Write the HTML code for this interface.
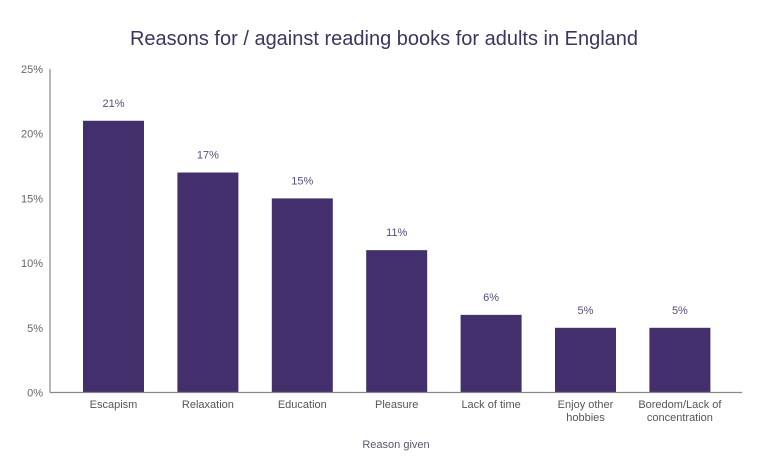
<!DOCTYPE html>
<html><head><meta charset="utf-8"><style>
html,body{margin:0;padding:0;background:#fff;}
svg{display:block;font-family:"Liberation Sans",sans-serif;}
</style></head><body>
<svg id="chart" width="768" height="476">
<text x="384" y="45" text-anchor="middle" font-size="20" fill="#3b3560">Reasons for / against reading books for adults in England</text>
<text x="396" y="448" text-anchor="middle" font-size="11" fill="#5a5470">Reason given</text>
<g id="yticks"></g><g id="bars"></g>
<line x1="50" y1="69" x2="50" y2="392.5" stroke="#888" stroke-width="1.2"/>
<line x1="50" y1="392.5" x2="742" y2="392.5" stroke="#888" stroke-width="1.2"/>
</svg>
<script>
const categories=[["Escapism"],["Relaxation"],["Education"],["Pleasure"],["Lack of time"],["Enjoy other","hobbies"],["Boredom/Lack of","concentration"]];
const values=[21,17,15,11,6,5,5];
const yTicks=[0,5,10,15,20,25];
const tickLabels=["0%","5%","10%","15%","20%","25%"];
const NS="http://www.w3.org/2000/svg";
const y=v=>392.5-v*(323.5/25);
const x=i=>83+i*94.4;
const bw=61;
const yg=document.getElementById("yticks"),bg=document.getElementById("bars");
function mk(t,a,p){const e=document.createElementNS(NS,t);for(const k in a)e.setAttribute(k,a[k]);p.appendChild(e);return e;}
yTicks.forEach((v,i)=>{const t=mk("text",{x:43,y:y(v)+4,"text-anchor":"end","font-size":11,fill:"#666"},yg);t.textContent=tickLabels[i];

});
values.forEach((v,i)=>{
const r=mk("rect",{x:x(i),y:y(v),width:bw,height:392.5-y(v),fill:"#432f6b"},bg);


const l=mk("text",{x:x(i)+bw/2,y:y(v)-14,"text-anchor":"middle","font-size":11,fill:"#5a4a80"},bg);l.textContent=v+"%";


categories[i].forEach((s,j)=>{const c=mk("text",{x:x(i)+bw/2,y:408+j*13,"text-anchor":"middle","font-size":11,fill:"#555"},bg);c.textContent=s;

});
});
</script>
</body></html>
